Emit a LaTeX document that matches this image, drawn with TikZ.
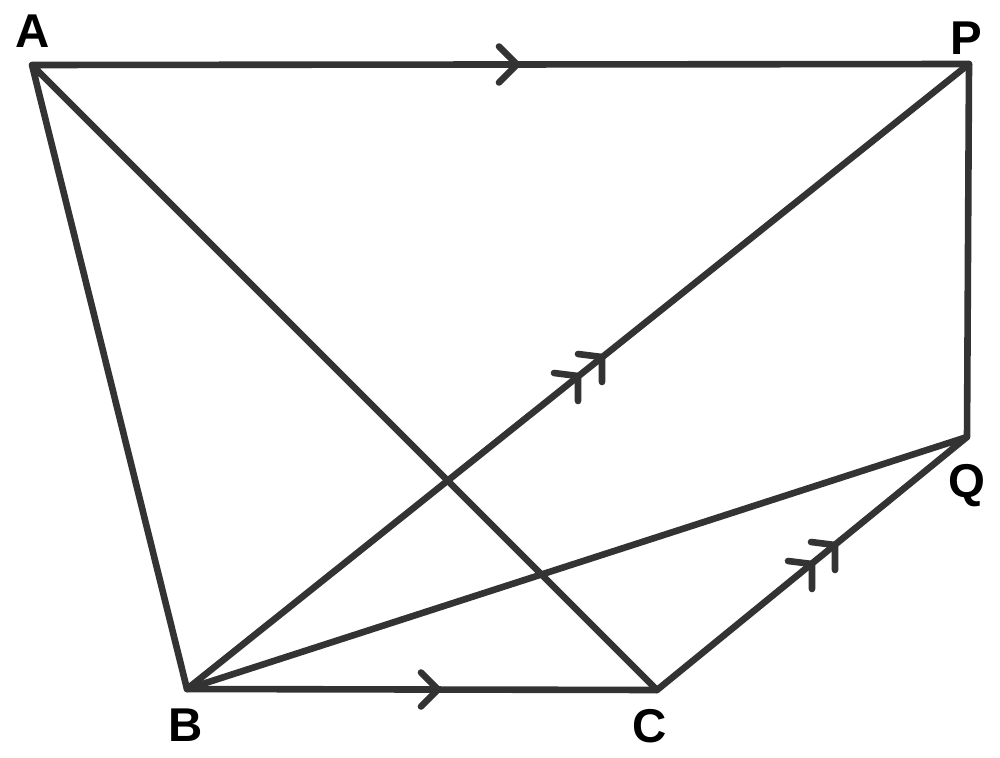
\documentclass[tikz,border=0pt]{standalone}
\usepackage{fontspec}
\setmainfont{Liberation Sans}
\usetikzlibrary{calc}
\begin{document}
\begin{tikzpicture}[x=0.02cm,y=-0.02cm,
  seg/.style={draw=black!80, line width=0.132cm, line cap=round, line join=round},
  lbl/.style={font=\fontsize{27}{27}\selectfont\bfseries, text=black, inner sep=0pt}]
\useasboundingbox (0,0) rectangle (1000,757);
\coordinate (A) at (32,65);
\coordinate (P) at (969,64);
\coordinate (Q) at (967,437);
\coordinate (B) at (187,689);
\coordinate (C) at (657,690);
\draw[seg] (A) -- (P) -- (Q) -- (B) -- (A) -- (C) -- (Q);
\draw[seg] (B) -- (P);
\draw[seg] (B) -- (C);
% single chevrons
\coordinate (t1) at (517,64.5);
\coordinate (t2) at (438,689.5);
\draw[seg] ($(t1)+(-18,-18)$) -- (t1) -- ($(t1)+(-18,18)$);
\draw[seg] ($(t2)+(-17,-17)$) -- (t2) -- ($(t2)+(-17,17)$);
% double chevrons
\coordinate (d1) at (578,376);
\coordinate (d2) at (602,357);
\coordinate (d3) at (812,564);
\coordinate (d4) at (835,545);
\foreach \t in {d1,d2,d3,d4}{
  \draw[seg] ($(\t)+(-24,-3)$) -- (\t) -- ($(\t)+(0,25)$);
}
\node[lbl] (lA) at (33,31) {A};
\node[lbl] (lP) at (966,38) {P};
\node[lbl] (lQ) at (967,486) {Q};
\node[lbl] (lB) at (186,725) {B};
\node[lbl] (lC) at (650,726) {C};
\end{tikzpicture}
\end{document}
